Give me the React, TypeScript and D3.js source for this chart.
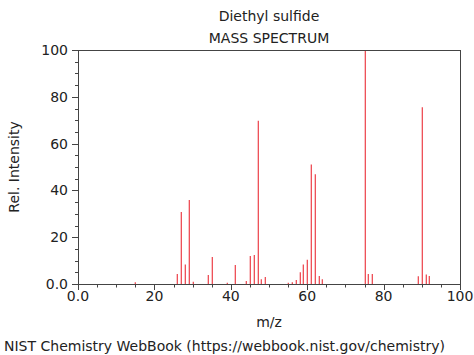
import React from "react";
import * as d3 from "d3";

const mz = [15, 26, 27, 28, 29, 30, 34, 35, 39, 41, 44, 45, 46, 47, 48, 49, 55, 56, 57, 58, 59, 60, 61, 62, 63, 64, 75, 76, 77, 89, 90, 91, 92];
const intensity = [0.8, 4.3, 30.8, 8.3, 35.9, 1.0, 3.8, 11.5, 0.5, 8.1, 1.3, 12, 12.4, 69.8, 2, 3, 0.5, 0.7, 1.7, 5, 8.3, 10.4, 51.1, 46.9, 3.4, 2, 100, 4.3, 4.3, 3.3, 75.5, 4.1, 3.4];
const xTicks = [0, 20, 40, 60, 80, 100];
const xTickLabels = ["0.0", "20", "40", "60", "80", "100"];
const yTicks = [0, 20, 40, 60, 80, 100];
const yTickLabels = ["0.0", "20", "40", "60", "80", "100"];

export default function App() {
  const W = 474, H = 355;
  const left = 78, right = 460, top = 50, bottom = 284;
  const x = d3.scaleLinear().domain([0, 100]).range([left, right]);
  const y = d3.scaleLinear().domain([0, 100]).range([bottom, top]);
  const px = (v: number) => Math.round(x(v)) + 0.5;
  const py = (v: number) => Math.round(y(v)) + 0.5;
  const minor = d3.range(0, 101, 5);
  const axisColor = "#444";
  const font = "DejaVu Sans, sans-serif";
  return (
    <svg width={W} height={H} style={{ position: "absolute", left: 0, top: 0 }} fontFamily={font}>
      <rect width={W} height={H} fill="#fff" />
      <text x={269} y={21} textAnchor="middle" fontSize={14} fill="#222">Diethyl sulfide</text>
      <text x={269} y={43} textAnchor="middle" fontSize={14} fill="#222">MASS SPECTRUM</text>
      {mz.map((m, i) => (
        <line key={i} x1={Math.round(x(m)) + 0.3} x2={Math.round(x(m)) + 0.3} y1={y(0)} y2={y(intensity[i])} stroke="#ec3f48" strokeWidth={1.2} />
      ))}
      <rect x={left + 0.5} y={top + 0.5} width={right - left} height={bottom - top} fill="none" stroke={axisColor} strokeWidth={1} />
      {minor.map((v) => (
        <g key={"m" + v}>
          <line x1={px(v)} x2={px(v)} y1={bottom} y2={bottom + 3.5} stroke={axisColor} />
          <line x1={left - 3} x2={left} y1={py(v)} y2={py(v)} stroke={axisColor} />
        </g>
      ))}
      {xTicks.map((v, i) => (
        <g key={"x" + v}>
          <line x1={px(v)} x2={px(v)} y1={bottom} y2={bottom + 6} stroke={axisColor} />
          <text x={x(v)} y={301} textAnchor="middle" fontSize={14} fill="#222">{xTickLabels[i]}</text>
        </g>
      ))}
      {yTicks.map((v, i) => (
        <g key={"y" + v}>
          <line x1={left - 6} x2={left} y1={py(v)} y2={py(v)} stroke={axisColor} />
          <text x={68} y={y(v) + 5} textAnchor="end" fontSize={14} fill="#222">{yTickLabels[i]}</text>
        </g>
      ))}
      <text x={269} y={327} textAnchor="middle" fontSize={14} fill="#222">m/z</text>
      <text transform={`translate(19,167) rotate(-90)`} textAnchor="middle" fontSize={14} fill="#222">Rel. Intensity</text>
      <text x={4} y={351} fontSize={14} fill="#222">NIST Chemistry WebBook (https://webbook.nist.gov/chemistry)</text>
    </svg>
  );
}
